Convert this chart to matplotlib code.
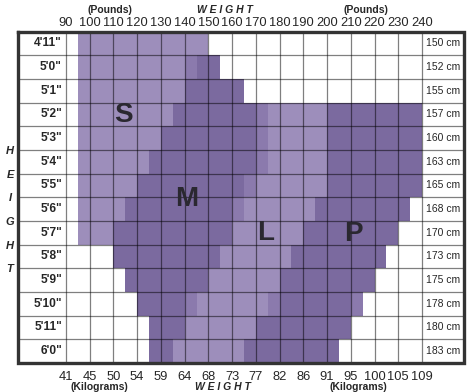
import matplotlib
matplotlib.use("Agg")
import matplotlib.pyplot as plt

# ---------------- data ----------------
heights_ft = ["4'11\"", "5'0\"", "5'1\"", "5'2\"", "5'3\"", "5'4\"", "5'5\"",
              "5'6\"", "5'7\"", "5'8\"", "5'9\"", "5'10\"", "5'11\"", "6'0\""]
heights_cm = [150, 152, 155, 157, 160, 163, 165, 168, 170, 173, 175, 178, 180, 183]
weights_lb = [90, 100, 110, 120, 130, 140, 150, 160, 170, 180, 190, 200, 210, 220, 230, 240]
weights_kg = [41, 45, 50, 54, 59, 64, 68, 73, 77, 82, 86, 91, 95, 100, 105, 109]

# per height row: weight boundaries (lb) and the shade of each band between them
# L = light (S / L sizes), D = dark (M / P sizes), m = overlap shade
band_edges = [
    [95, 150],
    [95, 140, 145, 155],
    [95, 140, 165],
    [95, 135, 170, 175, 200, 240],
    [95, 130, 170, 175, 200, 240],
    [95, 125, 170, 175, 200, 240],
    [95, 120, 165, 170, 200, 240],
    [95, 115, 160, 165, 195, 235],
    [95, 110, 160, 190, 230],
    [110, 155, 185, 225],
    [115, 150, 180, 220],
    [120, 140, 145, 175, 180, 210, 215],
    [125, 140, 170, 210],
    [125, 135, 165, 205],
]
band_shades = ["L", "LmD", "LD", "LDmLD", "LDmLD", "LDmLD", "LDmLD", "LDmLD",
               "LDLD", "DLD", "DLD", "DmLmDm", "DLD", "DLD"]

size_names = ["S", "M", "L", "P"]

# ---------------- styling / layout ----------------
shade_colors = {"L": "#9d8ebb", "D": "#7b6a9f", "m": "#8b7aad"}
txt = "#262626"

W, H = 474, 392
box_l, box_r, box_t, box_b = 18, 464, 31.5, 363   # outer box in px
grid_l, grid_r = 66, 422                           # lb grid in px
lb0, lb1 = weights_lb[0], weights_lb[-1]
ppl = (grid_r - grid_l) / (lb1 - lb0)              # px per lb
xmin = lb0 - (grid_l - box_l) / ppl
xmax = lb1 + (box_r - grid_r) / ppl
nrows = len(heights_ft)
row_px = (box_b - box_t) / nrows

fig = plt.figure(figsize=(W / 100, H / 100), dpi=100)
fig.patch.set_facecolor("white")
ax = fig.add_axes([box_l / W, 1 - box_b / H, (box_r - box_l) / W, (box_b - box_t) / H])
ax.set_xlim(xmin, xmax)
ax.set_ylim(nrows, 0)
ax.axis("off")

def px2lb(px):
    return lb0 + (px - grid_l) / ppl

def py2row(py):
    return (py - box_t) / row_px

# shaded bands
for r, (edges, shades) in enumerate(zip(band_edges, band_shades)):
    for i, s in enumerate(shades):
        ax.barh(r, edges[i + 1] - edges[i], left=edges[i], height=1, align="edge",
                color=shade_colors[s], linewidth=0, zorder=1)

# grid lines
for w in weights_lb:
    ax.plot([w, w], [0, nrows], color="black", alpha=0.5, lw=0.9, zorder=2,
            solid_capstyle="butt")
for r in range(1, nrows):
    ax.plot([xmin, xmax], [r, r], color="black", alpha=0.5, lw=0.9, zorder=2,
            solid_capstyle="butt")

# outer border
ax.plot([xmin, xmax, xmax, xmin, xmin], [0, 0, nrows, nrows, 0], color="#333333",
        lw=2.4, zorder=4, clip_on=False, solid_joinstyle="miter")

# row labels and cm labels
for r, (ft, cm) in enumerate(zip(heights_ft, heights_cm)):
    ax.text(px2lb(62), r + 0.5, ft, ha="right", va="center", fontsize=8.6,
            fontweight="bold", color=txt, family="Liberation Sans", zorder=5)
    ax.text(px2lb(443), r + 0.5, f"{cm} cm", ha="center", va="center", fontsize=7.5,
            color=txt, family="Liberation Sans", zorder=5)

# weight tick labels
for w in weights_lb:
    ax.text(w, py2row(23.5), str(w), ha="center", va="center", fontsize=9.3,
            color=txt, family="Liberation Sans", clip_on=False)
for w, k in zip(weights_lb, weights_kg):
    ax.text(w, py2row(376.5), str(k), ha="center", va="center", fontsize=9.3,
            color=txt, family="Liberation Sans", clip_on=False)

# axis titles
def t(xpx, ypx, s, **kw):
    ax.text(px2lb(xpx), py2row(ypx), s, ha="center", va="center", color=txt,
            family="Liberation Sans", clip_on=False, **kw)

t(110, 10, "(Pounds)", fontsize=7.5, fontweight="bold")
t(366, 10, "(Pounds)", fontsize=7.5, fontweight="bold")
t(225, 10, "W E I G H T", fontsize=7.5, fontweight="bold", style="italic")
t(99, 387, "(Kilograms)", fontsize=7.5, fontweight="bold")
t(358, 387, "(Kilograms)", fontsize=7.5, fontweight="bold")
t(223, 387, "W E I G H T", fontsize=7.5, fontweight="bold", style="italic")

for i, ch in enumerate("HEIGHT"):
    ax.text(px2lb(10), 5.05 + i * 1.0, ch, ha="center", va="center", fontsize=8,
            fontweight="bold", style="italic", color=txt, family="Liberation Sans",
            clip_on=False)

# size letters
size_pos_px = [(123.7, 115), (186.3, 198.5), (266, 233.5), (353, 234.5)]
for name, (xp, yp) in zip(size_names, size_pos_px):
    ax.text(px2lb(xp), py2row(yp), name, ha="center", va="center", fontsize=20,
            fontweight="bold", color="#2a2830", family="Liberation Sans", zorder=6)

fig.savefig("out.png", dpi=100, facecolor="white")
